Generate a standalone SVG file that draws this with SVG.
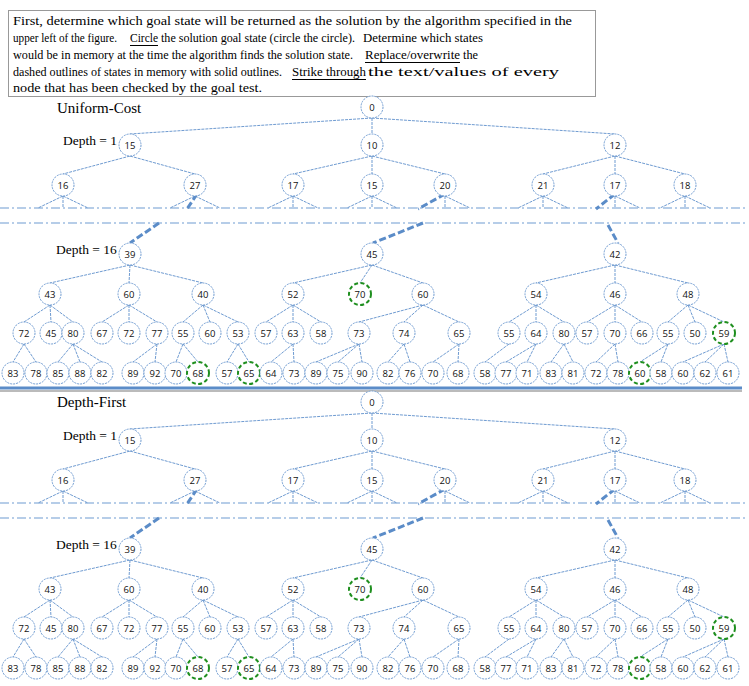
<svg xmlns="http://www.w3.org/2000/svg" xmlns:xlink="http://www.w3.org/1999/xlink" width="749" height="686" viewBox="0 0 749 686">
<style>
.n{fill:#fff;stroke:#6f9bd1;stroke-width:1;stroke-dasharray:2 1}
.g{fill:#fff;stroke:#1f8f1f;stroke-width:2;stroke-dasharray:4 2.5}
.t{font-family:"Open Sans","Liberation Sans",sans-serif;font-size:9.5px;fill:#111;text-anchor:middle;dominant-baseline:central}
.e{stroke:#6f9bd1;stroke-width:1;stroke-dasharray:3 1;fill:none}
.dd{stroke:#6f9bd1;stroke-width:1.2;stroke-dasharray:9 3 2 3;fill:none}
.th{stroke:#5b8cc8;stroke-width:3;stroke-dasharray:7 3;fill:none}
.lab{font-family:"Liberation Serif",serif;font-size:14px;fill:#000}
.box{font-family:"Liberation Serif",serif;font-size:13.5px;fill:#000}
</style>
<defs>
<g id="tree">
<g id="connectors">
<path class="e" d="M372,118L130,134M372,118L372,134M372,118L615,134
M130,156L63,174M130,156L195,174M372,156L293,174M372,156L372,174M372,156L445,174M615,156L543,174M615,156L615,174M615,156L685,174
M63,196L38,208M63,196L63,208M63,196L88,208M195,196L170,208M195,196L220,208M293,196L268,208M293,196L293,208M293,196L318,208M372,196L347,208M372,196L372,208M372,196L397,208M445,196L445,208M445,196L470,208M543,196L518,208M543,196L543,208M543,196L568,208M615,196L640,208M615,196L615,208M685,196L660,208M685,196L685,208M685,196L710,208
M130,265L50,283M130,265L129,283M130,265L203,283M372,265L293,283M372,265L360,283M372,265L423,283M615,265L536,283M615,265L615,283M615,265L688,283
M50,305L24,322M50,305L51,322M50,305L73,322M129,305L102,322M129,305L129,322M129,305L157,322M203,305L183,322M203,305L210,322M203,305L238,322M293,305L266,322M293,305L293,322M293,305L321,322M423,305L359,322M423,305L404,322M423,305L459,322M536,305L509,322M536,305L536,322M536,305L564,322M615,305L587,322M615,305L615,322M615,305L642,322M688,305L668,322M688,305L695,322M688,305L724,322
M24,344L13,362M24,344L36,362M73,344L58,362M73,344L80,362M73,344L102,362M157,344L133,362M157,344L155,362M183,344L176,362M183,344L198,362M238,344L227,362M238,344L249,362M293,344L271,362M293,344L294,362M359,344L316,362M359,344L338,362M359,344L362,362M404,344L388,362M404,344L410,362M459,344L433,362M459,344L458,362M509,344L485,362M536,344L506,362M536,344L527,362M564,344L551,362M564,344L573,362M615,344L596,362M615,344L618,362M668,344L640,362M668,344L661,362M724,344L683,362M724,344L705,362M724,344L728,362"/>
<path class="dd" d="M0,208H745M0,223H745"/>
<path class="th" d="M197,194L187,209M159,223L130,243M445,194L418,209M423,223L373,243M615,194L596,209M608,225L618,243"/>
</g>
<g id="L0"><circle class="n" cx="372" cy="107" r="11"/><text class="t" x="372" y="107">0</text></g>
<g id="L1"><circle class="n" cx="130" cy="145" r="11"/><text class="t" x="130" y="145">15</text><circle class="n" cx="372" cy="145" r="11"/><text class="t" x="372" y="145">10</text><circle class="n" cx="615" cy="145" r="11"/><text class="t" x="615" y="145">12</text></g>
<g id="L2">
<circle class="n" cx="63" cy="185" r="11"/><text class="t" x="63" y="185">16</text>
<circle class="n" cx="195" cy="185" r="11"/><text class="t" x="195" y="185">27</text>
<circle class="n" cx="293" cy="185" r="11"/><text class="t" x="293" y="185">17</text>
<circle class="n" cx="372" cy="185" r="11"/><text class="t" x="372" y="185">15</text>
<circle class="n" cx="445" cy="185" r="11"/><text class="t" x="445" y="185">20</text>
<circle class="n" cx="543" cy="185" r="11"/><text class="t" x="543" y="185">21</text>
<circle class="n" cx="615" cy="185" r="11"/><text class="t" x="615" y="185">17</text>
<circle class="n" cx="685" cy="185" r="11"/><text class="t" x="685" y="185">18</text>
</g>
<g id="M1">
<circle class="n" cx="130" cy="254" r="11"/><text class="t" x="130" y="254">39</text>
<circle class="n" cx="372" cy="254" r="11"/><text class="t" x="372" y="254">45</text>
<circle class="n" cx="615" cy="254" r="11"/><text class="t" x="615" y="254">42</text>
</g>
<g id="M2">
<circle class="n" cx="50" cy="294" r="11"/><text class="t" x="50" y="294">43</text>
<circle class="n" cx="129" cy="294" r="11"/><text class="t" x="129" y="294">60</text>
<circle class="n" cx="203" cy="294" r="11"/><text class="t" x="203" y="294">40</text>
<circle class="n" cx="293" cy="294" r="11"/><text class="t" x="293" y="294">52</text>
<circle class="g" cx="360" cy="294" r="11"/><text class="t" x="360" y="294">70</text>
<circle class="n" cx="423" cy="294" r="11"/><text class="t" x="423" y="294">60</text>
<circle class="n" cx="536" cy="294" r="11"/><text class="t" x="536" y="294">54</text>
<circle class="n" cx="615" cy="294" r="11"/><text class="t" x="615" y="294">46</text>
<circle class="n" cx="688" cy="294" r="11"/><text class="t" x="688" y="294">48</text>
</g>
<g id="M3">
<circle class="n" cx="24" cy="333" r="11"/><text class="t" x="24" y="333">72</text>
<circle class="n" cx="51" cy="333" r="11"/><text class="t" x="51" y="333">45</text>
<circle class="n" cx="73" cy="333" r="11"/><text class="t" x="73" y="333">80</text>
<circle class="n" cx="102" cy="333" r="11"/><text class="t" x="102" y="333">67</text>
<circle class="n" cx="129" cy="333" r="11"/><text class="t" x="129" y="333">72</text>
<circle class="n" cx="157" cy="333" r="11"/><text class="t" x="157" y="333">77</text>
<circle class="n" cx="183" cy="333" r="11"/><text class="t" x="183" y="333">55</text>
<circle class="n" cx="210" cy="333" r="11"/><text class="t" x="210" y="333">60</text>
<circle class="n" cx="238" cy="333" r="11"/><text class="t" x="238" y="333">53</text>
<circle class="n" cx="266" cy="333" r="11"/><text class="t" x="266" y="333">57</text>
<circle class="n" cx="293" cy="333" r="11"/><text class="t" x="293" y="333">63</text>
<circle class="n" cx="321" cy="333" r="11"/><text class="t" x="321" y="333">58</text>
<circle class="n" cx="359" cy="333" r="11"/><text class="t" x="359" y="333">73</text>
<circle class="n" cx="404" cy="333" r="11"/><text class="t" x="404" y="333">74</text>
<circle class="n" cx="459" cy="333" r="11"/><text class="t" x="459" y="333">65</text>
<circle class="n" cx="509" cy="333" r="11"/><text class="t" x="509" y="333">55</text>
<circle class="n" cx="536" cy="333" r="11"/><text class="t" x="536" y="333">64</text>
<circle class="n" cx="564" cy="333" r="11"/><text class="t" x="564" y="333">80</text>
<circle class="n" cx="587" cy="333" r="11"/><text class="t" x="587" y="333">57</text>
<circle class="n" cx="615" cy="333" r="11"/><text class="t" x="615" y="333">70</text>
<circle class="n" cx="642" cy="333" r="11"/><text class="t" x="642" y="333">66</text>
<circle class="n" cx="668" cy="333" r="11"/><text class="t" x="668" y="333">55</text>
<circle class="n" cx="695" cy="333" r="11"/><text class="t" x="695" y="333">50</text>
<circle class="g" cx="724" cy="333" r="11"/><text class="t" x="724" y="333">59</text>
</g>
<g id="M4">
<circle class="n" cx="13" cy="373" r="11"/><text class="t" x="13" y="373">83</text>
<circle class="n" cx="36" cy="373" r="11"/><text class="t" x="36" y="373">78</text>
<circle class="n" cx="58" cy="373" r="11"/><text class="t" x="58" y="373">85</text>
<circle class="n" cx="80" cy="373" r="11"/><text class="t" x="80" y="373">88</text>
<circle class="n" cx="102" cy="373" r="11"/><text class="t" x="102" y="373">82</text>
<circle class="n" cx="133" cy="373" r="11"/><text class="t" x="133" y="373">89</text>
<circle class="n" cx="155" cy="373" r="11"/><text class="t" x="155" y="373">92</text>
<circle class="n" cx="176" cy="373" r="11"/><text class="t" x="176" y="373">70</text>
<circle class="g" cx="198" cy="373" r="11"/><text class="t" x="198" y="373">68</text>
<circle class="n" cx="227" cy="373" r="11"/><text class="t" x="227" y="373">57</text>
<circle class="g" cx="249" cy="373" r="11"/><text class="t" x="249" y="373">65</text>
<circle class="n" cx="271" cy="373" r="11"/><text class="t" x="271" y="373">64</text>
<circle class="n" cx="294" cy="373" r="11"/><text class="t" x="294" y="373">73</text>
<circle class="n" cx="316" cy="373" r="11"/><text class="t" x="316" y="373">89</text>
<circle class="n" cx="338" cy="373" r="11"/><text class="t" x="338" y="373">75</text>
<circle class="n" cx="362" cy="373" r="11"/><text class="t" x="362" y="373">90</text>
<circle class="n" cx="388" cy="373" r="11"/><text class="t" x="388" y="373">82</text>
<circle class="n" cx="410" cy="373" r="11"/><text class="t" x="410" y="373">76</text>
<circle class="n" cx="433" cy="373" r="11"/><text class="t" x="433" y="373">70</text>
<circle class="n" cx="458" cy="373" r="11"/><text class="t" x="458" y="373">68</text>
<circle class="n" cx="485" cy="373" r="11"/><text class="t" x="485" y="373">58</text>
<circle class="n" cx="506" cy="373" r="11"/><text class="t" x="506" y="373">77</text>
<circle class="n" cx="527" cy="373" r="11"/><text class="t" x="527" y="373">71</text>
<circle class="n" cx="551" cy="373" r="11"/><text class="t" x="551" y="373">83</text>
<circle class="n" cx="573" cy="373" r="11"/><text class="t" x="573" y="373">81</text>
<circle class="n" cx="596" cy="373" r="11"/><text class="t" x="596" y="373">72</text>
<circle class="n" cx="618" cy="373" r="11"/><text class="t" x="618" y="373">78</text>
<circle class="g" cx="640" cy="373" r="11"/><text class="t" x="640" y="373">60</text>
<circle class="n" cx="661" cy="373" r="11"/><text class="t" x="661" y="373">58</text>
<circle class="n" cx="683" cy="373" r="11"/><text class="t" x="683" y="373">60</text>
<circle class="n" cx="705" cy="373" r="11"/><text class="t" x="705" y="373">62</text>
<circle class="n" cx="728" cy="373" r="11"/><text class="t" x="728" y="373">61</text>
</g>
<text class="box" x="63" y="145">Depth = 1</text>
<text class="box" x="56" y="254">Depth = 16</text>
</g>
</defs>
<g id="instructions">
<rect x="8.5" y="10.5" width="587" height="86" fill="#fff" stroke="#999"/>
<text class="box" x="13" y="25" textLength="559" lengthAdjust="spacingAndGlyphs">First, determine which goal state will be returned as the solution by the algorithm specified in the</text>
<text class="box" x="13" y="42" textLength="104" lengthAdjust="spacingAndGlyphs">upper left of the figure.</text>
<text class="box" x="130" y="42" textLength="28" lengthAdjust="spacingAndGlyphs">Circle</text>
<text class="box" x="161" y="42" textLength="194" lengthAdjust="spacingAndGlyphs">the solution goal state (circle the circle).</text>
<text class="box" x="363" y="42" textLength="120" lengthAdjust="spacingAndGlyphs">Determine which states</text>
<text class="box" x="13" y="59" textLength="340" lengthAdjust="spacingAndGlyphs">would be in memory at the time the algorithm finds the solution state.</text>
<text class="box" x="365" y="59" textLength="95" lengthAdjust="spacingAndGlyphs">Replace/overwrite</text>
<text class="box" x="463" y="59" textLength="15" lengthAdjust="spacingAndGlyphs">the</text>
<text class="box" x="13" y="76" textLength="269" lengthAdjust="spacingAndGlyphs">dashed outlines of states in memory with solid outlines.</text>
<text class="box" x="292" y="76" textLength="74" lengthAdjust="spacingAndGlyphs">Strike through</text>
<text class="box" x="368" y="76" textLength="191" lengthAdjust="spacingAndGlyphs">the text/values of every</text>
<text class="box" x="13" y="92" textLength="249" lengthAdjust="spacingAndGlyphs">node that has been checked by the goal test.</text>
<path d="M130,45.5H158M365,62.5H460M292,79.5H366" stroke="#000" stroke-width="1"/>
</g>
<text class="lab" x="57" y="113" style="font-size:15px">Uniform-Cost</text>
<use id="uniform-cost" xlink:href="#tree" href="#tree"/>
<path d="M0,391H742" stroke="#bbb" stroke-width="2"/>
<path d="M0,388H742" stroke="#5b8cc8" stroke-width="3"/>
<text class="lab" x="57" y="407" style="font-size:15px">Depth-First</text>
<use id="depth-first" xlink:href="#tree" href="#tree" transform="translate(0,295)"/>
</svg>
